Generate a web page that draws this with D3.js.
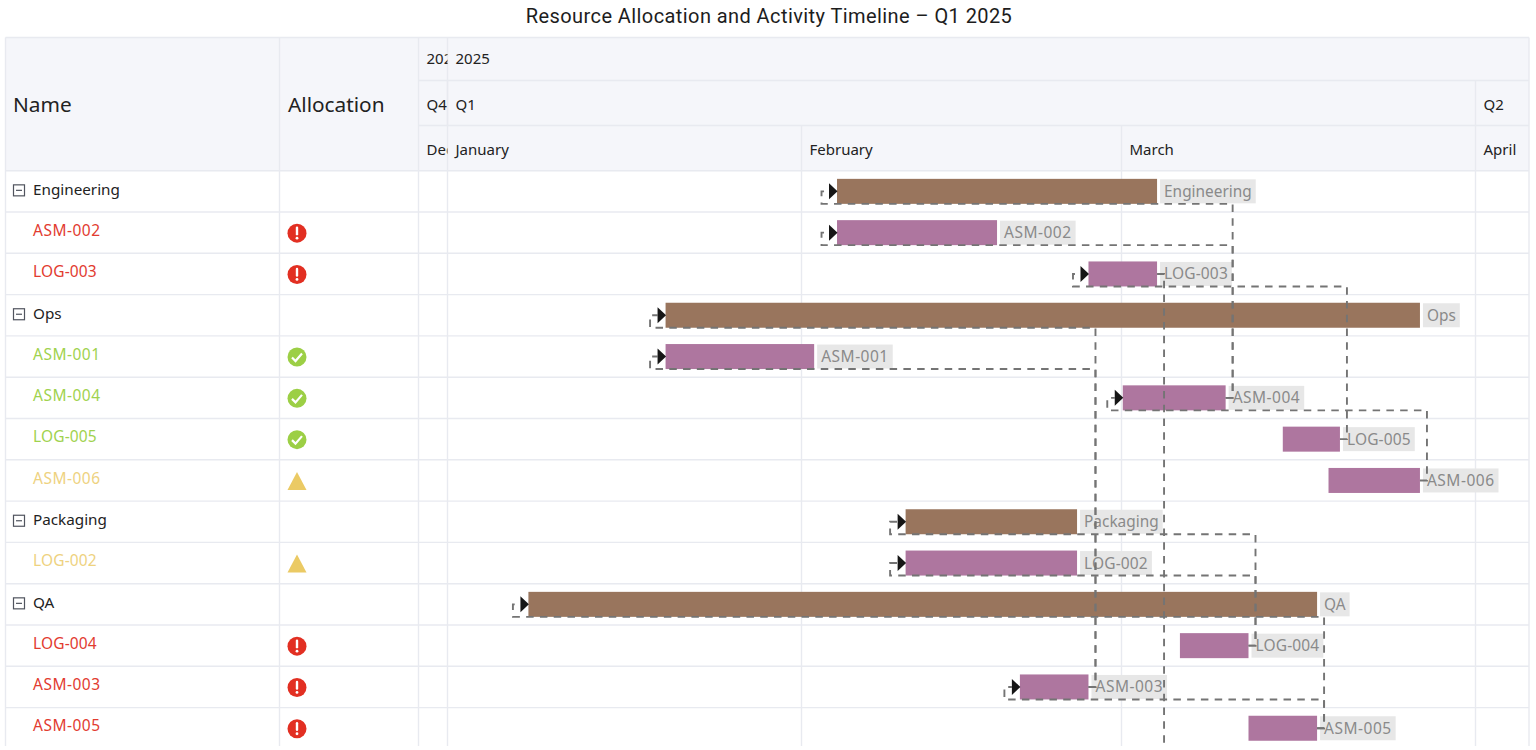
<!DOCTYPE html>
<html>
<head>
<meta charset="utf-8">
<title>Resource Allocation and Activity Timeline</title>
<script src="https://cdn.jsdelivr.net/npm/d3@7"></script>
<style>
  html, body { margin: 0; padding: 0; background: #fff; overflow: hidden; }
  svg { display: block; }
  text { font-family: "Noto Sans", "Open Sans", sans-serif; }
</style>
</head>
<body>
<svg id="gantt" width="1536" height="750"></svg>
<script>
// Schedule rows, in display order
const rowNames = ["Engineering", "ASM-002", "LOG-003", "Ops", "ASM-001", "ASM-004", "LOG-005", "ASM-006",
                  "Packaging", "LOG-002", "QA", "LOG-004", "ASM-003", "ASM-005"];
const groupNames = ["Engineering", "Ops", "Packaging", "QA"];
const startDates = ["2025-02-04", "2025-02-04", "2025-02-26", "2025-01-20", "2025-01-20", "2025-03-01", "2025-03-15", "2025-03-19",
                    "2025-02-10", "2025-02-10", "2025-01-08", "2025-03-06", "2025-02-20", "2025-03-12"];
const endDates = ["2025-03-04", "2025-02-18", "2025-03-04", "2025-03-27", "2025-02-02", "2025-03-10", "2025-03-20", "2025-03-27",
                  "2025-02-25", "2025-02-25", "2025-03-18", "2025-03-12", "2025-02-26", "2025-03-18"];
const allocations = [null, "over", "over", null, "ok", "ok", "ok", "warn", null, "warn", null, "over", "over", "over"];

// Finish-to-start dependencies; a null target continues below the visible rows
const linkSources = ["ASM-004", "ASM-004", "LOG-005", "LOG-003", "ASM-006", "ASM-003", "ASM-003", "LOG-004", "LOG-004", "ASM-005", "ASM-005"];
const linkTargets = ["Engineering", "ASM-002", "LOG-003", null, "ASM-004", "Ops", "ASM-001", "Packaging", "LOG-002", "QA", "ASM-003"];

// Timeline header cells
const yearCells = [["2024", "2024-12-01"], ["2025", "2025-01-01"]];
const quarterCells = [["Q4", "2024-12-01"], ["Q1", "2025-01-01"], ["Q2", "2025-04-01"]];
const monthCells = [["December", "2024-12-01"], ["January", "2025-01-01"], ["February", "2025-02-01"], ["March", "2025-03-01"], ["April", "2025-04-01"]];

const chartTitle = "Resource Allocation and Activity Timeline – Q1 2025";

const tableLeft = 5.5, tableRight = 1529, tableTop = 37.5, chartBottom = 746;
const nameCol = 279.5, allocCol = 418.5;
const headerRows = [37.5, 80.5, 125.5, 170.7];
const rowStep = 41.3;
const gridColor = "#e8eaf0", headerFill = "#f5f6fa", inkColor = "#222";
const statusColor = { over: "#e22f22", ok: "#9ccf45", warn: "#ebca64" };
const nameColor = { over: "#e23b30", ok: "#9fd24e", warn: "#eed27f" };

const svg = d3.select("#gantt");
const parse = d3.utcParse("%Y-%m-%d");

const x = d3.scaleUtc()
  .domain([parse("2025-01-01"), parse("2025-04-01")])
  .range([448.4, 1477.1]);
const y = d3.scaleBand().domain(rowNames).range([headerRows[3], headerRows[3] + rowStep * rowNames.length]);
const barHeight = 25;
const gridX = d => Math.round(x(d) - 1.7) + 0.5;

const rows = rowNames.map((name, i) => ({
  name, start: parse(startDates[i]), end: parse(endDates[i]),
  status: allocations[i], isGroup: groupNames.includes(name)
}));
const byName = new Map(rows.map(r => [r.name, r]));
const mid = name => y(name) + y.bandwidth() / 2;

// Asset codes run a little wider than group names
const tracking = name => name.startsWith("ASM") ? 0.5 : name.startsWith("LOG") ? 0.15 : 0;

const defs = svg.append("defs");
defs.append("clipPath").attr("id", "timeline-clip").append("rect")
  .attr("x", allocCol).attr("y", tableTop).attr("width", tableRight - allocCol).attr("height", chartBottom - tableTop);

// Header band and its rules
svg.append("rect").attr("x", tableLeft).attr("y", tableTop)
  .attr("width", tableRight - tableLeft).attr("height", headerRows[3] - tableTop).attr("fill", headerFill);

const rule = (x1, y1, x2, y2) => svg.append("line")
  .attr("x1", x1).attr("y1", y1).attr("x2", x2).attr("y2", y2)
  .attr("stroke", gridColor).attr("stroke-width", 1.4);

rule(tableLeft, tableTop, tableRight, tableTop);
rule(allocCol, headerRows[1], tableRight, headerRows[1]);
rule(allocCol, headerRows[2], tableRight, headerRows[2]);
[tableLeft, nameCol, allocCol, tableRight].forEach(px => rule(px, tableTop, px, chartBottom));

// Horizontal row rules
rowNames.forEach(n => rule(tableLeft, y(n), tableRight, y(n)));

// Month rules through the body of the timeline
monthCells.slice(1).forEach(([, d]) => rule(gridX(parse(d)), headerRows[2], gridX(parse(d)), chartBottom));
quarterCells.slice(1).forEach(([, d]) => rule(gridX(parse(d)), headerRows[1], gridX(parse(d)), headerRows[2]));
rule(gridX(parse(yearCells[1][1])), tableTop, gridX(parse(yearCells[1][1])), headerRows[2]);

// Column headings
const heading = svg.append("g").attr("font-size", 20.8).attr("fill", inkColor);
heading.append("text").attr("x", 13).attr("y", 112).text("Name");
heading.append("text").attr("x", 288).attr("y", 112).text("Allocation");

// Timeline header labels; a cell narrower than its text cuts it off
function headerTier(cells, baseline) {
  cells.forEach(([label, d], i) => {
    const date = parse(d);
    const left = i === 0 ? allocCol : gridX(date);
    const next = cells[i + 1];
    const right = next ? gridX(parse(next[1])) : tableRight;
    const id = `cell-${baseline}-${i}`;
    defs.append("clipPath").attr("id", id).append("rect")
      .attr("x", left).attr("y", tableTop).attr("width", right - left).attr("height", 140);
    svg.append("text").attr("clip-path", `url(#${id})`)
      .attr("x", left + 8).attr("y", baseline)
      .attr("font-size", 15).attr("fill", inkColor).text(label);
  });
}
headerTier(yearCells, 64);
headerTier(quarterCells, 110);
headerTier(monthCells, 155);

// Title
svg.append("text").attr("x", 769).attr("y", 23).attr("text-anchor", "middle")
  .attr("font-size", 20).attr("font-weight", 400).attr("fill", "#1d1d1d")
  .style("font-family", "Roboto, sans-serif").style("letter-spacing", "0.42px")
  .text(chartTitle);

// Left-hand tree column
const tree = svg.append("g").selectAll("g").data(rows).join("g")
  .attr("transform", d => `translate(0,${mid(d.name)})`);

tree.append("text").attr("x", 33).attr("y", d => d.isGroup ? 3.3 : 3.2)
  .attr("font-size", d => d.isGroup ? 15.25 : 15.5)
  .attr("letter-spacing", d => tracking(d.name))
  .attr("fill", d => d.isGroup ? inkColor : nameColor[d.status])
  .text(d => d.name);

const toggles = tree.filter(d => d.isGroup).append("g").attr("fill", "none").attr("stroke", "#50545e").attr("stroke-width", 1.2);
toggles.append("rect").attr("x", 13.5).attr("y", -6.5).attr("width", 11).attr("height", 11);
toggles.append("line").attr("x1", 16).attr("x2", 22).attr("y1", -1).attr("y2", -1);

// Allocation status icons
const icons = tree.filter(d => d.status).append("g").attr("transform", "translate(297,0.5)");
icons.filter(d => d.status === "over").each(function () {
  const g = d3.select(this);
  g.append("circle").attr("r", 9.5).attr("fill", statusColor.over);
  g.append("line").attr("y1", -5.5).attr("y2", 1).attr("stroke", "#fff").attr("stroke-width", 2.4).attr("stroke-linecap", "round");
  g.append("circle").attr("cy", 5).attr("r", 1.4).attr("fill", "#fff");
});
icons.filter(d => d.status === "ok").each(function () {
  const g = d3.select(this);
  g.append("circle").attr("r", 9.5).attr("fill", statusColor.ok);
  g.append("path").attr("d", "M-5,0.5 L-1.5,4 L5,-3.5").attr("fill", "none").attr("stroke", "#fff").attr("stroke-width", 2.2);
});
icons.filter(d => d.status === "warn").append("path")
  .attr("d", "M0,-9 L9.5,9 L-9.5,9 Z").attr("fill", statusColor.warn);

// Bars and labels inside the timeline
const timeline = svg.append("g").attr("clip-path", "url(#timeline-clip)");

timeline.selectAll("rect.bar").data(rows).join("rect")
  .attr("class", "bar")
  .attr("x", d => x(d.start))
  .attr("y", d => mid(d.name) - barHeight / 2)
  .attr("width", d => x(d.end) - x(d.start))
  .attr("height", barHeight)
  .attr("fill", d => d.isGroup ? "#99755d" : "#ae769f");

const labels = timeline.selectAll("g.label").data(rows).join("g")
  .attr("class", "label")
  .attr("transform", d => `translate(${x(d.end) + 3},${mid(d.name)})`);
labels.append("rect").attr("y", -12).attr("height", 24).attr("fill", "#e7e7e7");
labels.append("text").attr("x", 4).attr("y", 5.5).attr("font-size", d => d.isGroup ? 15.4 : 15.5)
  .attr("letter-spacing", d => tracking(d.name))
  .attr("fill", "#8a8a8a").text(d => d.name);
labels.each(function () {
  const g = d3.select(this);
  g.select("rect").attr("width", g.select("text").node().getComputedTextLength() + 8);
});

// Dependency connectors: out of the source's finish, along the target's lower edge, into its start
const linkPath = (source, target) => {
  const s = byName.get(source);
  const outX = x(s.end) + 7;
  if (!target) return `M${x(s.end)},${mid(source)} H${outX} V${chartBottom + 5}`;
  const t = byName.get(target);
  const tx = x(t.start), tMid = mid(target);
  return `M${x(s.end)},${mid(source)} H${outX} V${tMid + barHeight / 2} H${tx - 15.5} V${tMid} H${tx - 8}`;
};

timeline.selectAll("path.link").data(linkSources.map((s, i) => [s, linkTargets[i]])).join("path")
  .attr("class", "link")
  .attr("d", d => linkPath(d[0], d[1]))
  .attr("fill", "none").attr("stroke", "#747474").attr("stroke-width", 1.9).attr("stroke-dasharray", "7.5,6.27");

timeline.selectAll("path.arrow").data(linkTargets.filter(Boolean)).join("path")
  .attr("class", "arrow")
  .attr("transform", d => `translate(${x(byName.get(d).start)},${mid(d)})`)
  .attr("d", "M0.5,0 L-8,-8 L-8,8 Z").attr("fill", "#161616");
</script>
</body>
</html>
